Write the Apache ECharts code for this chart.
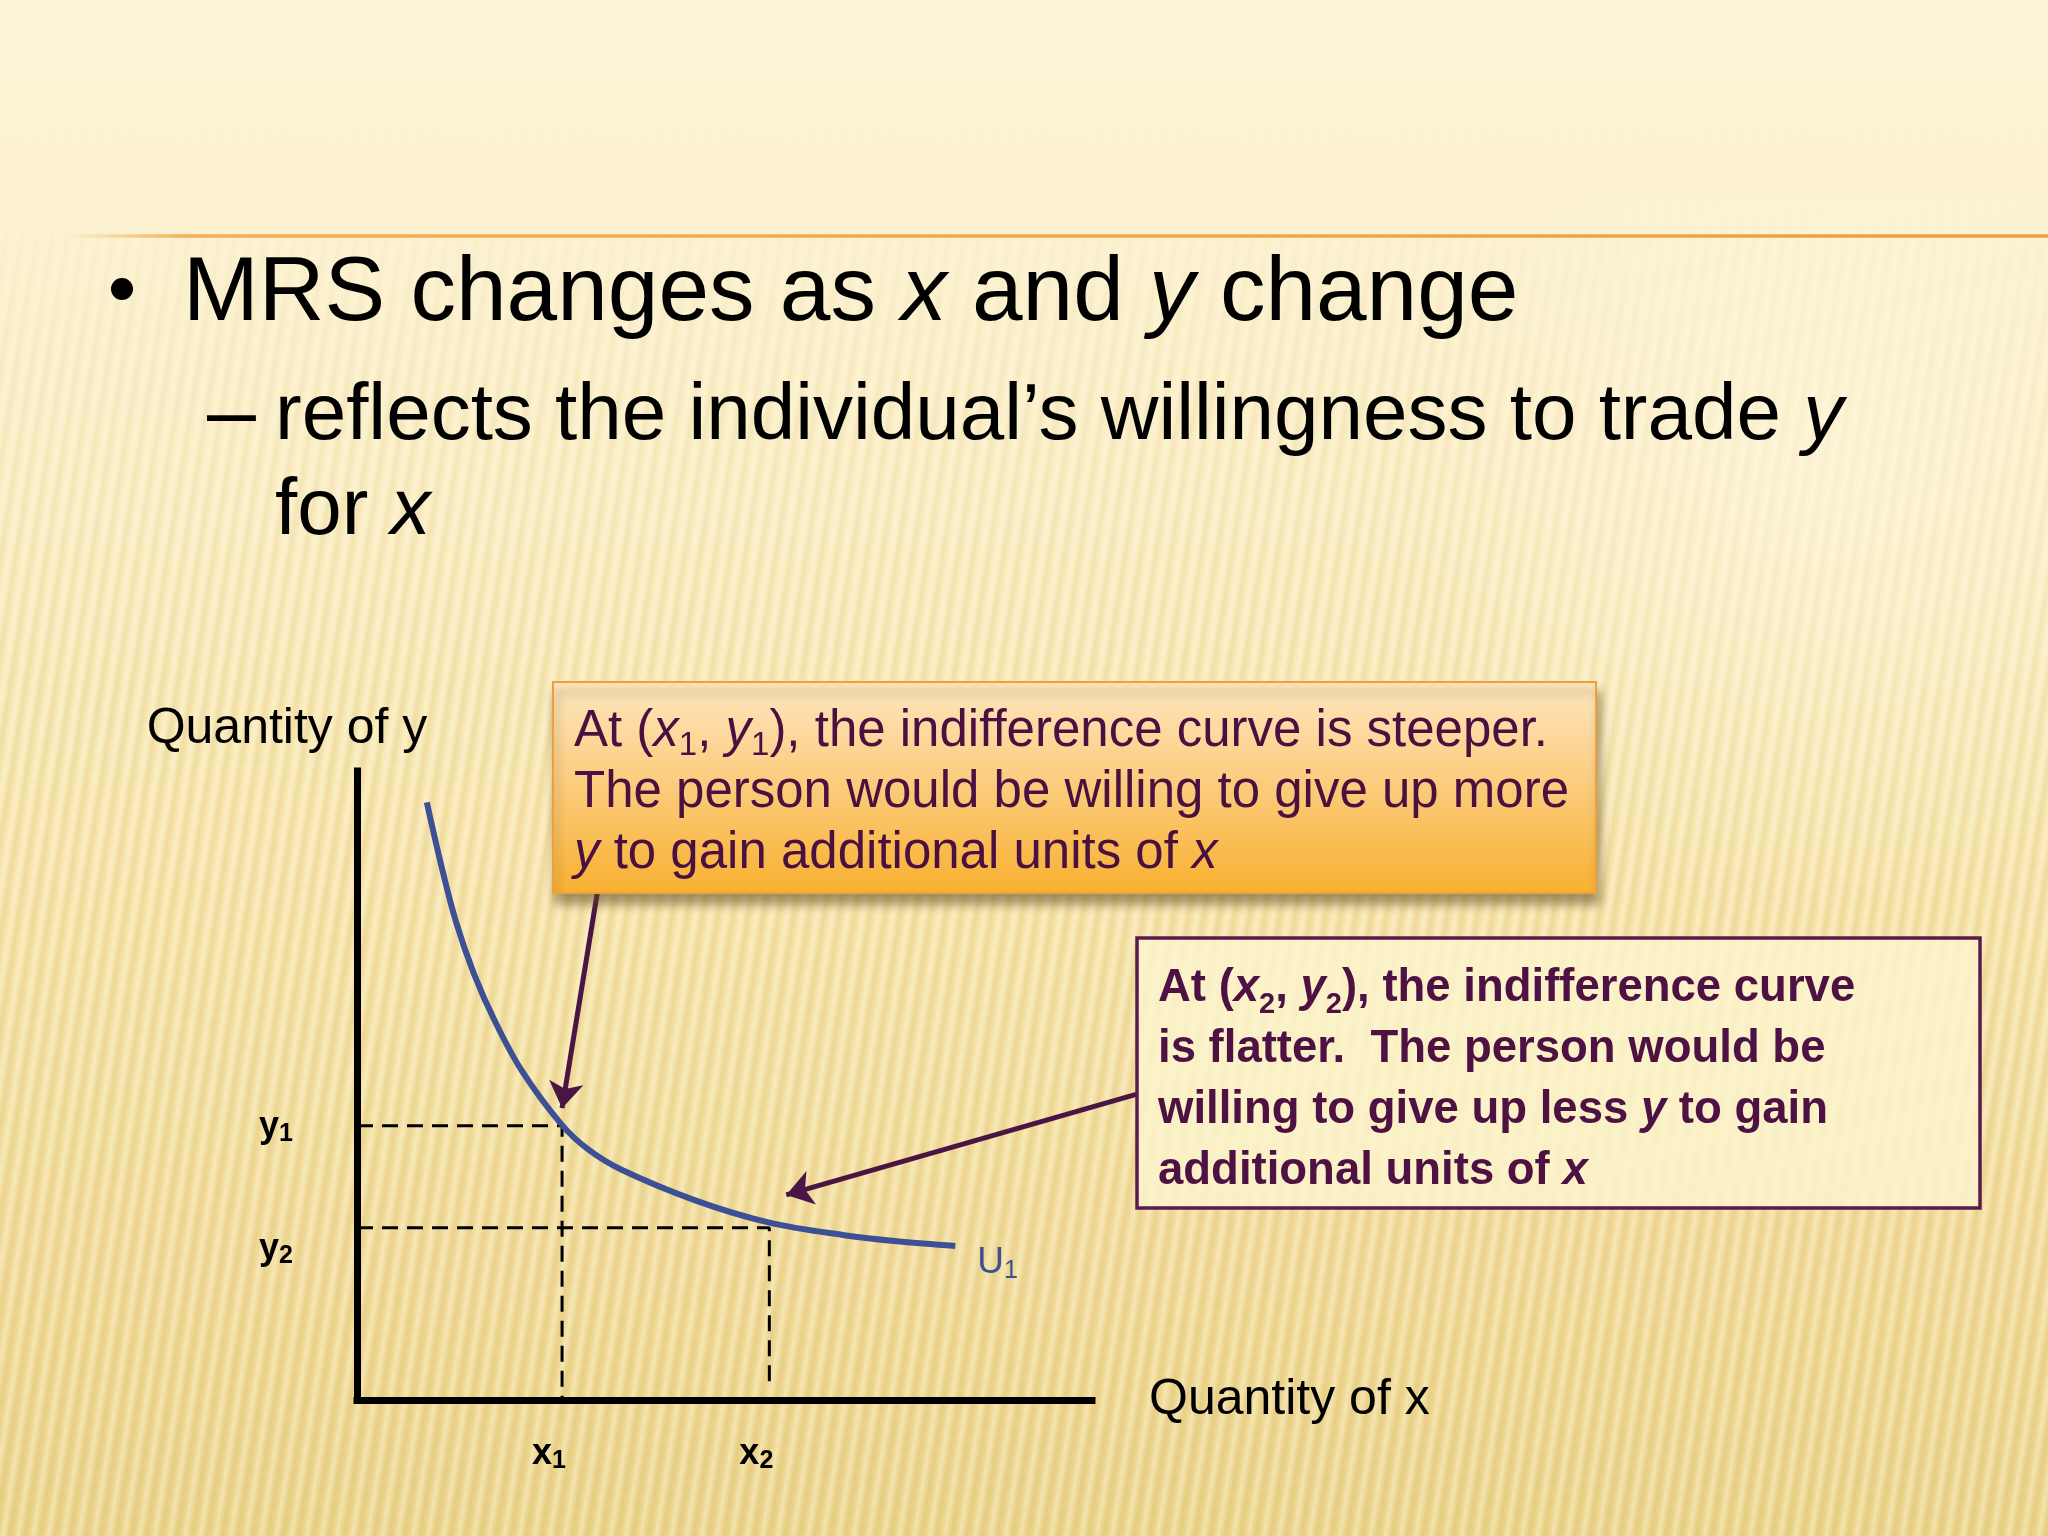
<!DOCTYPE html>
<html>
<head>
<meta charset="utf-8">
<script src="https://cdn.jsdelivr.net/npm/echarts@6/dist/echarts.min.js"></script>
<style>
html,body{margin:0;padding:0;background:#f7e7b0;}
#c{width:2048px;height:1536px;}
</style>
</head>
<body>
<div id="c"></div>
<script>
// ---- data ----
const curveX = [0.95, 1.14, 1.34, 1.59, 1.89, 2.25, 2.79, 3.15, 3.60, 4.61, 5.61, 6.63, 7.38, 8.14];
const curveY = [9.50, 8.53, 7.63, 6.78, 5.99, 5.22, 4.37, 3.98, 3.66, 3.17, 2.82, 2.62, 2.52, 2.45];
const pointX = [2.79, 5.61];
const pointY = [4.36, 2.74];
const xTickBase = ['x', 'x'];
const yTickBase = ['y', 'y'];
const tickSub = ['1', '2'];
const yLabelPos = [4.34, 2.40];
const arrowFrom = [[3.28, 8.14], [10.6, 4.86]];
const arrowTo = [[2.79, 4.64], [5.84, 3.26]];
const curveName = 'U';
const curveSub = '1';
const titleText = 'MRS changes as {i|x} and {i|y} change';
const subText1 = 'reflects the individual\u2019s willingness to trade {i|y}';
const subText2 = 'for {i|x}';
const box1Lines = [
  'At ({i|x}{s|1}, {i|y}{s|1}), the indifference curve is steeper.',
  'The person would be willing to give up more',
  '{i|y} to gain additional units of {i|x}'
];
const box2Lines = [
  'At ({i|x}{s|2}, {i|y}{s|2}), the indifference curve',
  'is flatter.  The person would be',
  'willing to give up less {i|y} to gain',
  'additional units of {i|x}'
];

// ---- helpers ----
const FONT = 'Liberation Sans, Arial, sans-serif';
function stripeCanvas() {
  const w = 15, h = 16;
  const c = document.createElement('canvas');
  c.width = w; c.height = h;
  const g = c.getContext('2d');
  const grd = g.createLinearGradient(0, 0, w, 0);
  grd.addColorStop(0, 'rgba(255,252,232,0.05)');
  grd.addColorStop(0.2, 'rgba(255,252,232,0.38)');
  grd.addColorStop(0.4, 'rgba(255,252,232,0.10)');
  grd.addColorStop(0.65, 'rgba(185,145,50,0.13)');
  grd.addColorStop(0.85, 'rgba(185,145,50,0.05)');
  grd.addColorStop(1, 'rgba(255,252,232,0.05)');
  g.fillStyle = grd;
  g.fillRect(0, 0, w, h);
  return c;
}

const curveData = curveX.map((x, i) => [x, curveY[i]]);
const dash1 = [[0, pointY[0]], [pointX[0], pointY[0]], [pointX[0], 0]];
const dash2 = [[0, pointY[1]], [pointX[1], pointY[1]], [pointX[1], 0.25]];
const arrowData = arrowFrom.map((f, i) => ({ coords: [f, arrowTo[i]] }));

const chart = echarts.init(document.getElementById('c'), null, { renderer: 'canvas' });

const tickRich = {
  m: { fontSize: 36, fontWeight: 'bold', fontFamily: FONT, color: '#000', lineHeight: 40 },
  s: { fontSize: 25, fontWeight: 'bold', fontFamily: FONT, color: '#000', lineHeight: 24, verticalAlign: 'bottom' }
};

const option = {
  animation: false,
  backgroundColor: 'transparent',
  grid: { left: 357, top: 771, width: 735, height: 629, containLabel: false },
  xAxis: {
    type: 'value', min: 0, max: 10,
    name: 'Quantity of x', nameLocation: 'end', nameGap: 57,
    nameTextStyle: { fontSize: 50, fontFamily: FONT, color: '#000', align: 'left', verticalAlign: 'middle', padding: [0, 0, 8, 0] },
    axisLine: { show: true, onZero: false, lineStyle: { color: '#000', width: 7, cap: 'square' } },
    axisTick: { show: false },
    splitLine: { show: false },
    axisLabel: {
      show: true, customValues: pointX, margin: 34, padding: [0, 26, 0, 0],
      formatter: function (v) { const i = pointX.indexOf(v); return '{m|' + xTickBase[i] + '}{s|' + tickSub[i] + '}'; },
      rich: tickRich
    }
  },
  yAxis: {
    type: 'value', min: 0, max: 10,
    name: 'Quantity of y', nameLocation: 'end', nameGap: 42,
    nameTextStyle: { fontSize: 50, fontFamily: FONT, color: '#000', align: 'center', verticalAlign: 'middle', padding: [0, 140, 0, 0] },
    axisLine: { show: true, onZero: false, lineStyle: { color: '#000', width: 7, cap: 'square' } },
    axisTick: { show: false },
    splitLine: { show: false },
    axisLabel: {
      show: true, customValues: yLabelPos, margin: 64,
      formatter: function (v) { const i = yLabelPos.indexOf(v); return '{m|' + yTickBase[i] + '}{s|' + tickSub[i] + '}'; },
      rich: tickRich
    }
  },
  series: [
    {
      type: 'line', name: 'dash1', data: dash1, symbol: 'none', silent: true, z: 3,
      lineStyle: { color: '#000', width: 3, type: [16, 9] }
    },
    {
      type: 'line', name: 'dash2', data: dash2, symbol: 'none', silent: true, z: 3,
      lineStyle: { color: '#000', width: 3, type: [16, 9] }
    },
    {
      type: 'line', name: 'U1', data: curveData, smooth: 0.35, symbol: 'none', z: 4,
      lineStyle: { color: '#3d5096', width: 6, cap: 'butt' },
      endLabel: {
        show: true, offset: [14, 17],
        formatter: '{m|' + curveName + '}{s|' + curveSub + '}',
        rich: {
          m: { fontSize: 37, fontFamily: FONT, color: '#3d5096', lineHeight: 42 },
          s: { fontSize: 25, fontFamily: FONT, color: '#3d5096', lineHeight: 24, verticalAlign: 'bottom' }
        }
      }
    },
    {
      type: 'lines', coordinateSystem: 'cartesian2d', clip: false, z: 5,
      data: arrowData,
      symbol: ['none', 'arrow'], symbolSize: [0, 26],
      lineStyle: { color: '#4a1545', width: 5, opacity: 1 }
    }
  ],
  graphic: {
    elements: [
      // background
      {
        type: 'rect', z: -100, silent: true,
        shape: { x: 0, y: 0, width: 2048, height: 1536 },
        style: {
          fill: { type: 'linear', x: 0, y: 0, x2: 0, y2: 1, colorStops: [
            { offset: 0, color: '#fdf4d8' },
            { offset: 0.25, color: '#fbefc8' },
            { offset: 0.55, color: '#f7e5ad' },
            { offset: 1, color: '#ecd48c' }
          ] }
        }
      },
      {
        type: 'rect', z: -99, silent: true, rotation: -0.16, originX: 1024, originY: 768,
        shape: { x: -600, y: -600, width: 3248, height: 2736 },
        style: { fill: { image: stripeCanvas(), repeat: 'repeat' } }
      },
      {
        type: 'rect', z: -98, silent: true,
        shape: { x: 0, y: 0, width: 2048, height: 700 },
        style: {
          fill: { type: 'linear', x: 0, y: 0, x2: 0, y2: 1, colorStops: [
            { offset: 0, color: 'rgba(253,244,216,1)' },
            { offset: 0.28, color: 'rgba(252,242,210,0.95)' },
            { offset: 0.55, color: 'rgba(251,240,205,0.35)' },
            { offset: 1, color: 'rgba(251,240,205,0)' }
          ] }
        }
      },
      {
        type: 'rect', z: -97, silent: true,
        shape: { x: 1300, y: 200, width: 748, height: 700 },
        style: {
          fill: { type: 'radial', x: 0.7, y: 0.4, r: 0.6, colorStops: [
            { offset: 0, color: 'rgba(255,248,225,0.55)' },
            { offset: 1, color: 'rgba(255,248,225,0)' }
          ] }
        }
      },
      // orange rule
      {
        type: 'line', z: -90, silent: true,
        shape: { x1: 70, y1: 236, x2: 2048, y2: 236 },
        style: {
          lineWidth: 3.5,
          stroke: { type: 'linear', x: 0, y: 0, x2: 1, y2: 0, colorStops: [
            { offset: 0, color: 'rgba(238,165,64,0)' },
            { offset: 0.06, color: 'rgba(238,165,64,0.85)' },
            { offset: 1, color: 'rgba(238,160,56,1)' }
          ] }
        }
      },
      // title
      {
        type: 'circle', z: 20, silent: true,
        shape: { cx: 122, cy: 289, r: 11 },
        style: { fill: '#000' }
      },
      {
        type: 'text', z: 20, silent: true,
        style: {
          x: 183, y: 295, text: titleText, fontSize: 91, fontFamily: FONT, fill: '#000', verticalAlign: 'middle', align: 'left',
          rich: { i: { fontStyle: 'italic', fontSize: 91, fontFamily: FONT, fill: '#000' } }
        }
      },
      {
        type: 'text', z: 20, silent: true,
        style: { x: 207, y: 416, text: '\u2013', fontSize: 88, fontFamily: FONT, fill: '#000', verticalAlign: 'middle', align: 'left' }
      },
      {
        type: 'text', z: 20, silent: true,
        style: {
          x: 275, y: 417, text: subText1, fontSize: 80, fontFamily: FONT, fill: '#000', verticalAlign: 'middle', align: 'left',
          rich: { i: { fontStyle: 'italic', fontSize: 80, fontFamily: FONT, fill: '#000' } }
        }
      },
      {
        type: 'text', z: 20, silent: true,
        style: {
          x: 275, y: 512, text: subText2, fontSize: 80, fontFamily: FONT, fill: '#000', verticalAlign: 'middle', align: 'left',
          rich: { i: { fontStyle: 'italic', fontSize: 80, fontFamily: FONT, fill: '#000' } }
        }
      },
      // box 1
      {
        type: 'rect', z: 30, silent: true,
        shape: { x: 553, y: 682, width: 1043, height: 211 },
        style: {
          fill: { type: 'linear', x: 0, y: 0, x2: 0, y2: 1, colorStops: [
            { offset: 0, color: '#fde6c0' },
            { offset: 0.5, color: '#fbcb7a' },
            { offset: 1, color: '#f8b030' }
          ] },
          stroke: '#eea13a', lineWidth: 2,
          shadowBlur: 10, shadowOffsetX: 3, shadowOffsetY: 10, shadowColor: 'rgba(90,70,30,0.55)'
        }
      },
      {
        type: 'text', z: 31, silent: true,
        style: {
          x: 574, y: 701, text: box1Lines.join('\n'), fontSize: 51, fontFamily: FONT, fill: '#4b0f40',
          lineHeight: 61, align: 'left', verticalAlign: 'top',
          rich: {
            i: { fontStyle: 'italic', fontSize: 51, fontFamily: FONT, fill: '#4b0f40', lineHeight: 61 },
            s: { fontSize: 33, fontFamily: FONT, fill: '#4b0f40', lineHeight: 30, verticalAlign: 'bottom' }
          }
        }
      },
      // box 2
      {
        type: 'rect', z: 30, silent: true,
        shape: { x: 1137, y: 938, width: 843, height: 270 },
        style: { fill: 'rgba(253,245,208,0.8)', stroke: '#5b1a4d', lineWidth: 3.5 }
      },
      {
        type: 'text', z: 31, silent: true,
        style: {
          x: 1158, y: 958, text: box2Lines.join('\n'), fontSize: 45.5, fontWeight: 'bold', fontFamily: FONT, fill: '#4e1143',
          lineHeight: 61, align: 'left', verticalAlign: 'top',
          rich: {
            i: { fontStyle: 'italic', fontWeight: 'bold', fontSize: 45.5, fontFamily: FONT, fill: '#4e1143', lineHeight: 61 },
            s: { fontSize: 29, fontWeight: 'bold', fontFamily: FONT, fill: '#4e1143', lineHeight: 28, verticalAlign: 'bottom' }
          }
        }
      }
    ]
  }
};

chart.setOption(option);
</script>
</body>
</html>
